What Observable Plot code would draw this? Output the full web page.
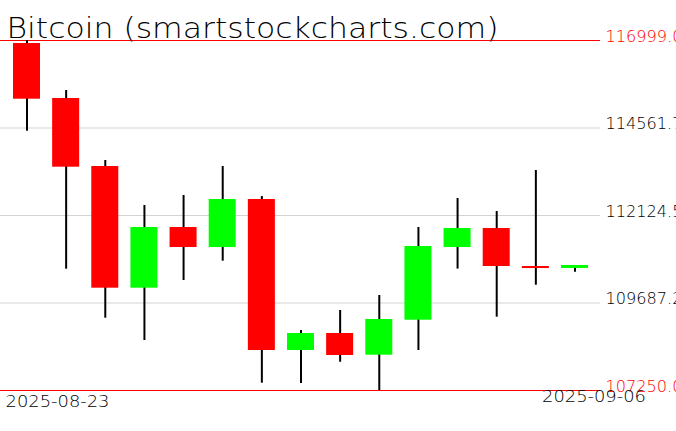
<!DOCTYPE html>
<html>
<head>
<meta charset="utf-8">
<script src="https://cdn.jsdelivr.net/npm/d3@7"></script>
<script src="https://cdn.jsdelivr.net/npm/@observablehq/plot@0.6"></script>
<style>
  html, body { margin: 0; padding: 0; background: white; overflow: hidden; }
</style>
</head>
<body>
<div id="chart"></div>
<script>
const title = "Bitcoin (smartstockcharts.com)";
const dates = ["2025-08-23","2025-08-24","2025-08-25","2025-08-26","2025-08-27","2025-08-28","2025-08-29","2025-08-30","2025-08-31","2025-09-01","2025-09-02","2025-09-03","2025-09-04","2025-09-05","2025-09-06"];
const open  = [116915,115383,113489,110100,111790,111233,112570,108364,108838,108233,109208,111233,111762,110704,110649];
const high  = [116999,115606,113657,112403,112682,113489,112652,108921,109478,109897,111790,112598,112236,113378,110732];
const low   = [114473,110629,109264,108643,110314,110852,107453,107448,108038,107250,108364,110632,109292,110183,110545];
const close = [115364,113470,110100,111790,111233,112570,108364,108838,108225,109228,111261,111762,110704,110647,110732];
const yTicks = [107250.0, 109687.2, 112124.5, 114561.7, 116999.0];
const xLabels = ["2025-08-23", "2025-09-06"];

const data = dates.map((d, i) => ({date: d, open: open[i], high: high[i], low: low[i], close: close[i]}));
const yMin = d3.min(yTicks), yMax = d3.max(yTicks);
const isEdge = v => v === yMin || v === yMax;
const font = "'DejaVu Sans', sans-serif";

const chart = Plot.plot({
  width: 676,
  height: 431,
  marginLeft: 0,
  marginRight: 76,
  marginTop: 40,
  marginBottom: 41,
  style: {fontFamily: font, background: "white", overflow: "hidden"},
  x: {type: "band", domain: dates, range: [13, 588], paddingInner: 0.31, paddingOuter: 0, round: false, axis: null},
  y: {domain: [yMin, yMax], axis: null},
  marks: [
    Plot.ruleY(yTicks, {y: d => d, stroke: d => isEdge(d) ? "#ff0000" : "#d3d3d3", strokeWidth: 1}),
    Plot.ruleX(data, {x: "date", y1: "low", y2: "high", stroke: "black", strokeWidth: 2}),
    Plot.barY(data, {x: "date", y1: "open", y2: "close", fill: d => d.close >= d.open ? "#00ff00" : "#ff0000"}),
    Plot.text(yTicks, {y: d => d, text: d => d.toFixed(1), frameAnchor: "right", textAnchor: "start", lineAnchor: "bottom", dx: 5, dy: 1, fontSize: 15, fontWeight: 200, fill: d => isEdge(d) ? "#ff0000" : "black", className: "ylab"}),
    Plot.text([title], {text: d => d, frameAnchor: "top-left", textAnchor: "start", lineAnchor: "bottom", dx: 6, dy: -3, fontSize: 29, fontWeight: 200, fill: "black", className: "ttl"}),
    Plot.text([xLabels[0]], {text: d => d, frameAnchor: "bottom-left", textAnchor: "start", lineAnchor: "bottom", dx: 5, dy: 16, fontSize: 15, fontWeight: 200, fill: "black", className: "xlab"}),
    Plot.text([xLabels[1]], {x: d => d, text: d => d, frameAnchor: "bottom", textAnchor: "start", lineAnchor: "bottom", dx: -33, dy: 11, fontSize: 15, fontWeight: 200, fill: "black", className: "xlab"})
  ]
});
const svg = d3.select(chart);
svg.selectAll(".ttl text").attr("textLength", 492).attr("lengthAdjust", "spacingAndGlyphs");
svg.selectAll(".xlab text").attr("textLength", 104).attr("lengthAdjust", "spacingAndGlyphs");
svg.selectAll(".ylab text").attr("textLength", 77).attr("lengthAdjust", "spacingAndGlyphs");
document.getElementById("chart").appendChild(chart);
</script>
</body>
</html>
